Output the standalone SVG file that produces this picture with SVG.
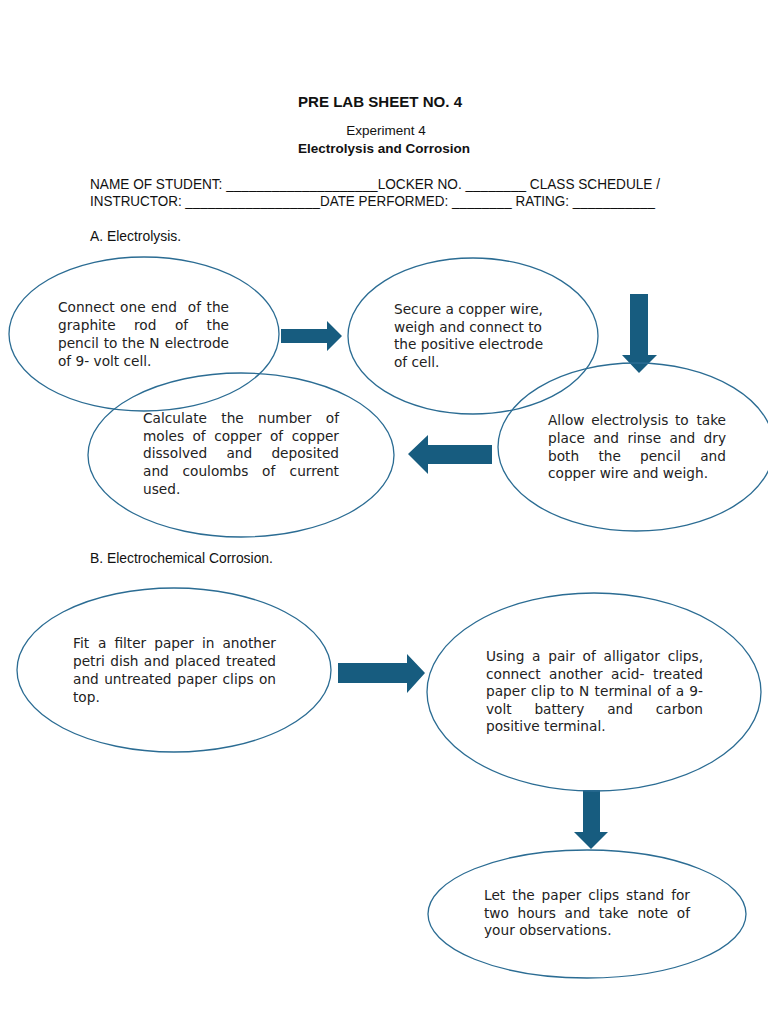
<svg xmlns="http://www.w3.org/2000/svg" width="768" height="1024" viewBox="0 0 768 1024">
<style>
.hd{font-family:"Liberation Sans",Arial,sans-serif;fill:#111;}
.b{font-weight:bold;}
.node ellipse{fill:none;stroke:#2b6c93;stroke-width:1.3;}
.node text{font-family:"DejaVu Sans","Liberation Sans",sans-serif;font-size:13.7px;fill:#222;}
.arr{fill:#175c7f;}
</style>
<rect width="768" height="1024" fill="#fff"/>
<g id="header">
<text class="hd b" x="380" y="107" font-size="15" text-anchor="middle" textLength="164" lengthAdjust="spacingAndGlyphs">PRE LAB SHEET NO. 4</text>
<text class="hd" x="386" y="135" font-size="13.5" text-anchor="middle">Experiment 4</text>
<text class="hd b" x="384" y="153" font-size="13.5" text-anchor="middle">Electrolysis and Corrosion</text>
<text class="hd" x="90" y="189" font-size="14" textLength="570" lengthAdjust="spacingAndGlyphs">NAME OF STUDENT: ____________________LOCKER NO. ________ CLASS SCHEDULE /</text>
<text class="hd" x="90" y="206" font-size="14" textLength="565" lengthAdjust="spacingAndGlyphs">INSTRUCTOR: __________________DATE PERFORMED: ________ RATING: ___________</text>
<text class="hd" x="90" y="241" font-size="13.9">A. Electrolysis.</text>
<text class="hd" x="90" y="563" font-size="13.9">B. Electrochemical Corrosion.</text>
</g>
<g id="connectors">
<path class="arr" d="M281,329 H327 V321 L342,336 L327,351 V343 H281 Z"/>
<path class="arr" d="M630,294 H648 V355 H657 L639,373 L622,355 H630 Z"/>
<path class="arr" d="M492,445 H428 V435 L408,454 L428,474 V464 H492 Z"/>
<path class="arr" d="M338,663 H407 V654 L425,673 L407,693 V683 H338 Z"/>
<path class="arr" d="M583,790 H600 V832 H608 L591,849 L574,832 H583 Z"/>
</g>
<g id="node1" class="node">
<ellipse cx="144" cy="334" rx="135" ry="77"/>
<text y="312"><tspan x="58">Connect</tspan><tspan x="120.1">one</tspan><tspan x="151.1">end</tspan><tspan x="187.8">of</tspan><tspan x="229" text-anchor="end">the</tspan></text>
<text y="330"><tspan x="58">graphite</tspan><tspan x="134">rod</tspan><tspan x="175">of</tspan><tspan x="229" text-anchor="end">the</tspan></text>
<text y="348"><tspan x="58">pencil</tspan><tspan x="103.7">to</tspan><tspan x="122.1">the</tspan><tspan x="149.3">N</tspan><tspan x="229" text-anchor="end">electrode</tspan></text>
<text x="58" y="366">of 9- volt cell.</text>
</g>
<g id="node2" class="node">
<ellipse cx="473" cy="336" rx="125" ry="78"/>
<text x="394" y="314">Secure a copper wire,</text>
<text x="394" y="332">weigh and connect to</text>
<text x="394" y="349">the positive electrode</text>
<text x="394" y="367">of cell.</text>
</g>
<g id="node3" class="node">
<ellipse cx="636" cy="447" rx="138" ry="84"/>
<text y="425"><tspan x="548">Allow</tspan><tspan x="591.2">electrolysis</tspan><tspan x="675">to</tspan><tspan x="726" text-anchor="end">take</tspan></text>
<text y="443"><tspan x="548">place</tspan><tspan x="593.2">and</tspan><tspan x="627.4">rinse</tspan><tspan x="669.4">and</tspan><tspan x="726" text-anchor="end">dry</tspan></text>
<text y="461"><tspan x="548">both</tspan><tspan x="598.4">the</tspan><tspan x="640">pencil</tspan><tspan x="726" text-anchor="end">and</tspan></text>
<text x="548" y="478">copper wire and weigh.</text>
</g>
<g id="node4" class="node">
<ellipse cx="241" cy="455" rx="153" ry="82"/>
<text y="423"><tspan x="143">Calculate</tspan><tspan x="221.3">the</tspan><tspan x="258">number</tspan><tspan x="339" text-anchor="end">of</tspan></text>
<text y="441"><tspan x="143">moles</tspan><tspan x="192.5">of</tspan><tspan x="214.2">copper</tspan><tspan x="270">of</tspan><tspan x="339" text-anchor="end">copper</tspan></text>
<text y="458"><tspan x="143">dissolved</tspan><tspan x="226.4">and</tspan><tspan x="339" text-anchor="end">deposited</tspan></text>
<text y="476"><tspan x="143">and</tspan><tspan x="182.5">coulombs</tspan><tspan x="262.1">of</tspan><tspan x="339" text-anchor="end">current</tspan></text>
<text x="143" y="494">used.</text>
</g>
<g id="node5" class="node">
<ellipse cx="174" cy="670" rx="157" ry="82"/>
<text y="648"><tspan x="73">Fit</tspan><tspan x="98">a</tspan><tspan x="114.4">filter</tspan><tspan x="154.2">paper</tspan><tspan x="202">in</tspan><tspan x="276" text-anchor="end">another</tspan></text>
<text y="666"><tspan x="73">petri</tspan><tspan x="110.2">dish</tspan><tspan x="143.8">and</tspan><tspan x="174.9">placed</tspan><tspan x="276" text-anchor="end">treated</tspan></text>
<text y="684"><tspan x="73">and</tspan><tspan x="104.2">untreated</tspan><tspan x="177.3">paper</tspan><tspan x="222.6">clips</tspan><tspan x="276" text-anchor="end">on</tspan></text>
<text x="73" y="702">top.</text>
</g>
<g id="node6" class="node">
<ellipse cx="594" cy="692" rx="167" ry="99"/>
<text y="661"><tspan x="486">Using</tspan><tspan x="532.1">a</tspan><tspan x="548.3">pair</tspan><tspan x="582.6">of</tspan><tspan x="603.6">alligator</tspan><tspan x="703" text-anchor="end">clips,</tspan></text>
<text y="679"><tspan x="486">connect</tspan><tspan x="549">another</tspan><tspan x="611">acid-</tspan><tspan x="703" text-anchor="end">treated</tspan></text>
<text y="696"><tspan x="486">paper</tspan><tspan x="531.1">clip</tspan><tspan x="560.1">to</tspan><tspan x="579.1">N</tspan><tspan x="594.6">terminal</tspan><tspan x="657.3">of</tspan><tspan x="675.7">a</tspan><tspan x="703" text-anchor="end">9-</tspan></text>
<text y="714"><tspan x="486">volt</tspan><tspan x="534.4">battery</tspan><tspan x="607.2">and</tspan><tspan x="703" text-anchor="end">carbon</tspan></text>
<text x="486" y="731">positive terminal.</text>
</g>
<g id="node7" class="node">
<ellipse cx="587" cy="914" rx="159" ry="64"/>
<text y="900"><tspan x="484">Let</tspan><tspan x="512.3">the</tspan><tspan x="541.6">paper</tspan><tspan x="588.2">clips</tspan><tspan x="626">stand</tspan><tspan x="690" text-anchor="end">for</tspan></text>
<text y="918"><tspan x="484">two</tspan><tspan x="517.5">hours</tspan><tspan x="564.5">and</tspan><tspan x="598.8">take</tspan><tspan x="637.4">note</tspan><tspan x="690" text-anchor="end">of</tspan></text>
<text x="484" y="935">your observations.</text>
</g>
</svg>
